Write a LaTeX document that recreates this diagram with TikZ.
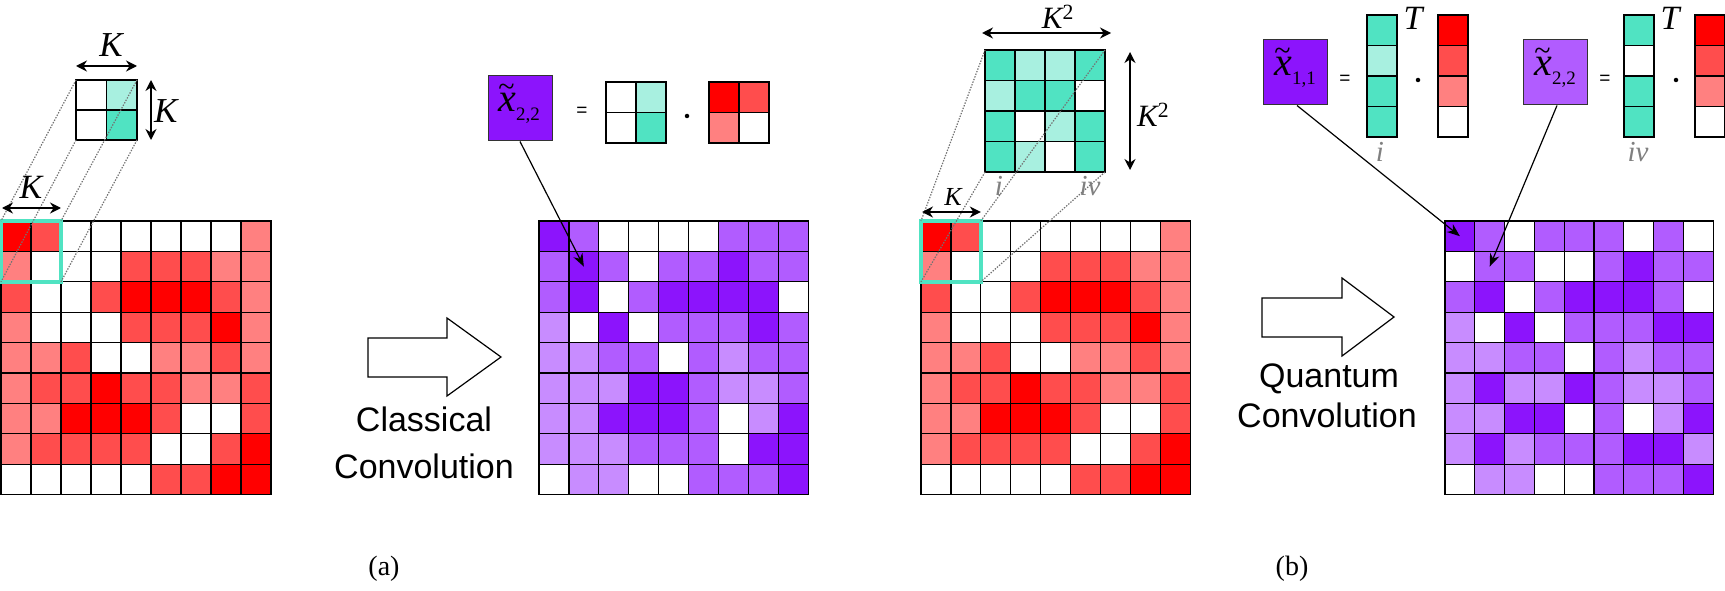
\documentclass[tikz,border=0pt]{standalone}
\usepackage{fontspec}
\setmainfont{Liberation Serif}
\newfontfamily\arialfont{Liberation Sans}
\usetikzlibrary{arrows.meta}
\definecolor{R3}{HTML}{FF0000}
\definecolor{R2}{HTML}{FF4D4D}
\definecolor{R1}{HTML}{FF8080}
\definecolor{P3}{HTML}{8C14FC}
\definecolor{P2}{HTML}{B15CFF}
\definecolor{P1}{HTML}{C88CFF}
\definecolor{T2}{HTML}{50E3C2}
\definecolor{T1}{HTML}{A8F0E0}
\colorlet{W}{white}
\newcommand\setfs[1]{\fontsize{#1}{#1}\selectfont}
\newcommand\xtil[1]{\makebox[0pt][l]{\raisebox{15pt}{\setfs{30}\upshape\char"7E}}{\setfs{40}\itshape x}\raisebox{-9pt}{\setfs{19}#1}}
\newcommand\cellgrid[6]{%
  \foreach \rowlist [count=\r] in {#6} {
    \foreach \cc [count=\k] in \rowlist {
      \node[cellbox, fill=\cc, minimum width=#4pt, minimum height=#5pt]
        (#1-\r-\k) at ({#2+(\k-0.5)*#4}, {#3+(\r-0.5)*#5}) {};
    }
  }
}
\tikzset{
  cellbox/.style={draw=black, line width=1.2pt, inner sep=0pt, outer sep=0pt},
  dotline/.style={gray!90!black, line width=1.2pt, dash pattern=on 1.4pt off 1.4pt},
  dimarr/.style={line width=1.4pt, {Stealth[length=11pt,width=11pt]}-{Stealth[length=11pt,width=11pt]}},
  ptr/.style={line width=1.2pt, -{Stealth[length=13pt,width=10pt]}},
  xbox/.style={draw=black!80, line width=1pt, minimum width=64pt, minimum height=65pt, inner sep=0pt},
  hollow/.style={draw=black, line width=1.2pt, fill=white},
  lbl/.style={inner sep=0pt, anchor=base},
  sanslbl/.style={inner sep=0pt, anchor=base, font=\arialfont\setfs{34}},
  dotmark/.style={circle, fill=black, inner sep=0pt, minimum size=4.5pt},
  eqmark/.style={inner sep=0pt, font=\arialfont\setfs{19}},
}
\begin{document}
\begin{tikzpicture}[x=1pt,y=-1pt]
\useasboundingbox (0,0) rectangle (1725,591);
% ---------- grids ----------
\cellgrid{ga}{1}{221}{30}{30.4}{{R3,R2,W,W,W,W,W,W,R1},{R1,W,W,W,R2,R2,R2,R1,R1},{R2,W,W,R2,R3,R3,R3,R2,R1},{R1,W,W,W,R2,R2,R2,R3,R1},{R1,R1,R2,W,W,R1,R1,R2,R1},{R1,R2,R2,R3,R2,R2,R1,R1,R2},{R1,R1,R3,R3,R3,R2,W,W,R2},{R1,R2,R2,R2,R2,W,W,R2,R3},{W,W,W,W,W,R2,R2,R3,R3}}
\cellgrid{gb}{539}{221}{29.9}{30.4}{{P3,P2,W,W,W,W,P2,P2,P2},{P2,P3,P2,W,P2,P2,P3,P2,P2},{P2,P3,W,P2,P3,P3,P3,P3,W},{P1,W,P3,W,P2,P2,P2,P3,P2},{P1,P1,P2,P2,W,P2,P1,P2,P2},{P1,P1,P1,P3,P3,P2,P1,P1,P2},{P1,P1,P3,P3,P3,P2,W,P1,P3},{P1,P1,P1,P2,P2,P2,W,P3,P3},{W,P1,P1,W,W,P2,P2,P2,P3}}
\cellgrid{gc}{921}{221}{29.9}{30.4}{{R3,R2,W,W,W,W,W,W,R1},{R1,W,W,W,R2,R2,R2,R1,R1},{R2,W,W,R2,R3,R3,R3,R2,R1},{R1,W,W,W,R2,R2,R2,R3,R1},{R1,R1,R2,W,W,R1,R1,R2,R1},{R1,R2,R2,R3,R2,R2,R1,R1,R2},{R1,R1,R3,R3,R3,R2,W,W,R2},{R1,R2,R2,R2,R2,W,W,R2,R3},{W,W,W,W,W,R2,R2,R3,R3}}
\cellgrid{gd}{1445}{221}{29.8}{30.4}{{P3,P2,W,P2,P2,P2,W,P2,W},{W,P2,P2,W,W,P2,P3,P2,P2},{P2,P3,W,P2,P3,P3,P3,P2,W},{P1,W,P3,W,P2,P2,P2,P3,P3},{P1,P1,P2,P2,W,P2,P1,P2,P2},{P1,P3,P1,P1,P3,P2,P1,P1,P2},{P1,P1,P3,P3,W,P2,W,P1,P3},{P1,P3,P1,P2,P2,P2,P3,P3,P1},{W,P1,P1,W,W,P2,P2,P2,P3}}
% teal highlights
\draw[T2, line width=3.5pt] (ga-1-1.north west) rectangle (ga-2-2.south east);
\draw[T2, line width=3.5pt] (gc-1-1.north west) rectangle (gc-2-2.south east);
% ---------- kernels ----------
\cellgrid{ka}{76}{80}{30.5}{30}{{W,T1},{W,T2}}
\cellgrid{kb}{985}{50}{30}{30.5}{{T2,T1,T1,T2},{T1,T2,T2,W},{T2,W,T1,T2},{T2,T1,W,T2}}
% equation (a)
\cellgrid{ke}{606}{82}{30}{30.5}{{W,T1},{W,T2}}
\cellgrid{re}{709}{82}{30}{30.5}{{R3,R2},{R1,W}}
% equation vectors (b)
\cellgrid{va}{1367}{15}{30}{30.5}{{T2},{T1},{T2},{T2}}
\cellgrid{ra}{1438}{15}{30}{30.5}{{R3},{R2},{R1},{W}}
\cellgrid{vb}{1624}{15}{30}{30.5}{{T2},{W},{T2},{T2}}
\cellgrid{rb}{1695}{15}{29.5}{30.5}{{R3},{R2},{R1},{W}}
% ---------- dotted projection lines ----------
\draw[dotline] (ka-1-1.north west) -- (ga-1-1.north west);
\draw[dotline] (ka-2-1.south west) -- (ga-2-1.south west);
\draw[dotline] (ka-1-2.north east) -- (ga-1-2.north east);
\draw[dotline] (ka-2-2.south east) -- (ga-2-2.south east);
\draw[dotline] (kb-1-1.north west) -- (gc-1-1.north west);
\draw[dotline] (kb-4-1.south west) -- (gc-2-1.south west);
\draw[dotline] (kb-1-4.north east) -- (gc-1-2.north east);
\draw[dotline] (kb-4-4.south east) -- (gc-2-2.south east);
% ---------- dimension arrows (a) ----------
\draw[dimarr] ([yshift=14pt]ka-1-1.north west) -- ([yshift=14pt]ka-1-2.north east);
\node[lbl] (ka-top) at (111,57) {\setfs{35}\itshape K};
\draw[dimarr] ([xshift=14pt]ka-1-2.north east) -- ([xshift=14pt]ka-2-2.south east);
\node[lbl, anchor=base west] (ka-side) at (154,123) {\setfs{35}\itshape K};
\draw[dimarr] ([yshift=13pt,xshift=1pt]ga-1-1.north west) -- ([yshift=13pt]ga-1-2.north east);
\node[lbl] (ga-k) at (31,198) {\setfs{34}\itshape K};
% ---------- dimension arrows (b) ----------
\draw[dimarr] ([yshift=17pt,xshift=-3pt]kb-1-1.north west) -- ([yshift=17pt,xshift=6pt]kb-1-4.north east);
\node[lbl] (kb-top) at (1058,29) {\setfs{31}\itshape K\textsuperscript{\upshape 2}};
\draw[dimarr] ([xshift=25pt,yshift=-2pt]kb-1-4.north east) -- ([xshift=25pt,yshift=2pt]kb-4-4.south east);
\node[lbl, anchor=base west] (kb-side) at (1137,127) {\setfs{31}\itshape K\textsuperscript{\upshape 2}};
\draw[dimarr] ([yshift=9pt,xshift=1pt]gc-1-1.north west) -- ([yshift=9pt]gc-1-2.north east);
\node[lbl] (gc-k) at (953,205) {\setfs{26}\itshape K};
\node[lbl, text=gray] (kb-i) at (999,195) {\setfs{29}\itshape i};
\node[lbl, text=gray] (kb-iv) at (1090,195) {\setfs{29}\itshape iv};
% ---------- equation (a) ----------
\node[xbox, fill=P3] (xa) at (520,108.5) {};
\node[inner sep=0pt] (xa-t) at (519,104) {\xtil{2,2}};
\node[eqmark] (eqa) at (582,112) {=};
\node[dotmark] (dota) at (687,116) {};
\draw[ptr] (xa.south) -- (gb-2-2.center);
% ---------- equations (b) ----------
\node[xbox, fill=P3] (xb1) at (1295,72.5) {};
\node[inner sep=0pt] (xb1-t) at (1295,68) {\xtil{1,1}};
\node[eqmark] (eqb1) at (1345,80) {=};
\node[lbl] (ta) at (1413,30) {\setfs{34}\itshape T};
\node[dotmark] (dotb1) at (1418,80) {};
\node[lbl, text=gray] (la) at (1380,162) {\setfs{29}\itshape i};
\node[xbox, fill=P2] (xb2) at (1555,72.5) {};
\node[inner sep=0pt] (xb2-t) at (1555,68) {\xtil{2,2}};
\node[eqmark] (eqb2) at (1605,80) {=};
\node[lbl] (tb) at (1670,30) {\setfs{34}\itshape T};
\node[dotmark] (dotb2) at (1676,80) {};
\node[lbl, text=gray] (lb) at (1638,162) {\setfs{29}\itshape iv};
\draw[ptr] ([xshift=2pt]xb1.south) -- (gd-1-1.center);
\draw[ptr] ([xshift=2pt]xb2.south) -- (gd-2-2.center);
% ---------- hollow arrows ----------
\draw[hollow] (368,338) -- (447,338) -- (447,318) -- (501,357) -- (447,396) -- (447,377) -- (368,377) -- cycle;
\node[sanslbl] (cl1) at (424,431) {Classical};
\node[sanslbl] (cl2) at (424,478) {Convolution};
\draw[hollow] (1262,298) -- (1342,298) -- (1342,278) -- (1394,317) -- (1342,356) -- (1342,337) -- (1262,337) -- cycle;
\node[sanslbl] (qu1) at (1329,387) {Quantum};
\node[sanslbl] (qu2) at (1327,427) {Convolution};
% ---------- captions ----------
\node[inner sep=0pt] (capa) at (384,569) {\setfs{28}(a)};
\node[inner sep=0pt] (capb) at (1292,569) {\setfs{28}(b)};
\end{tikzpicture}
\end{document}
